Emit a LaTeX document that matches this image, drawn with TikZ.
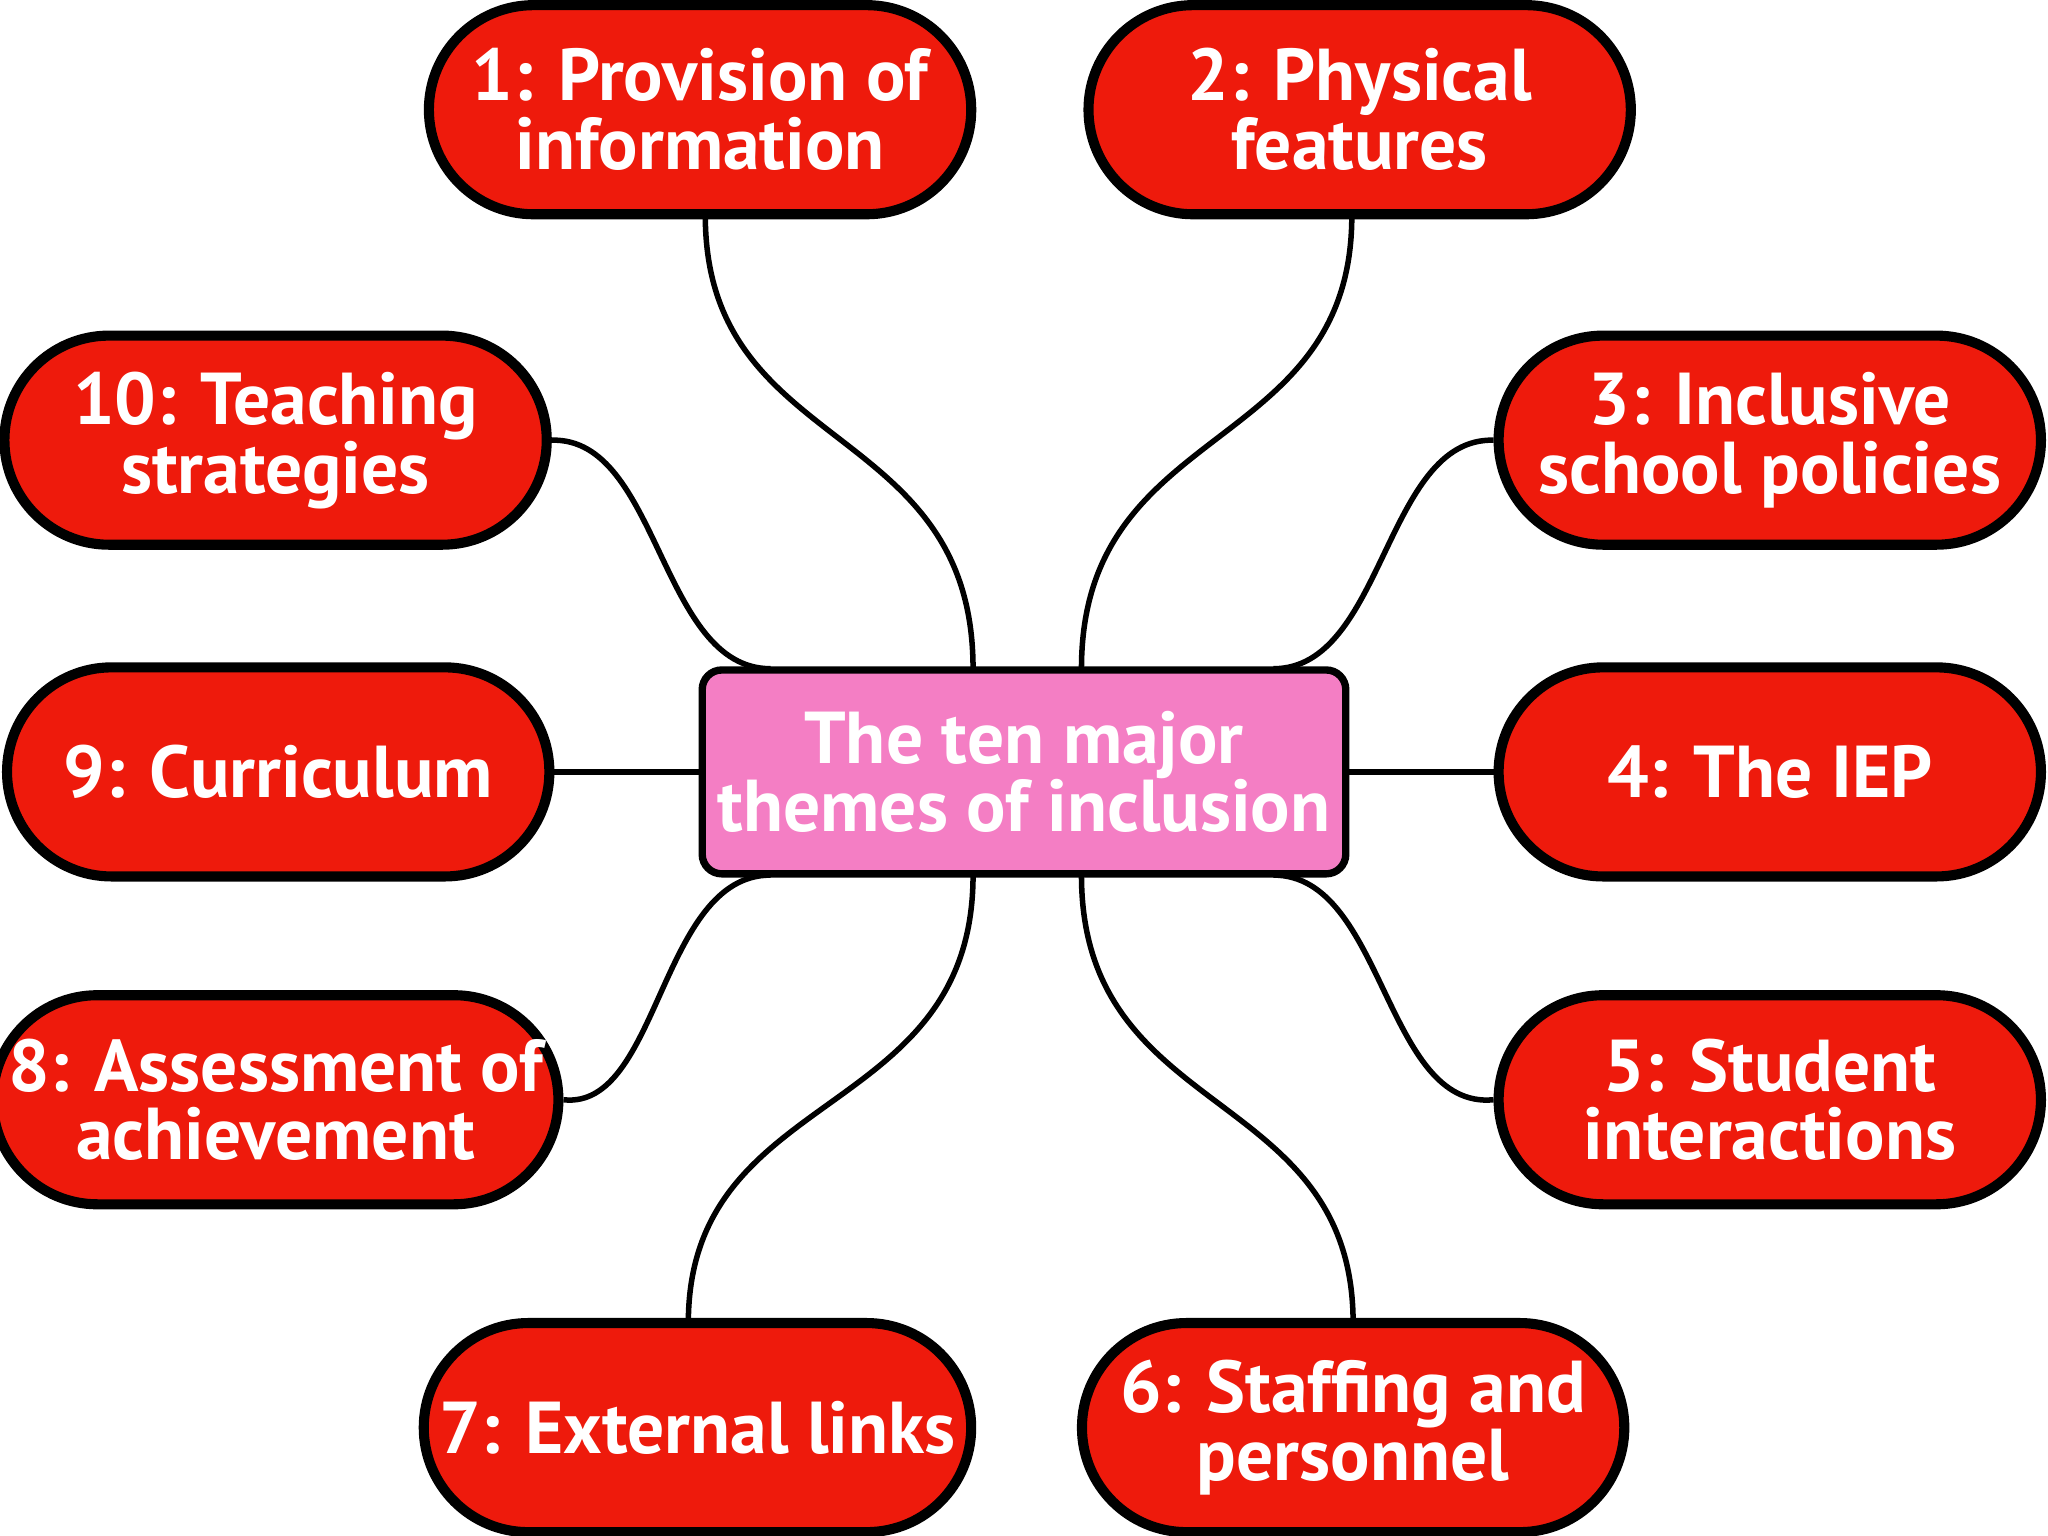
\documentclass[tikz,border=0pt]{standalone}
\usepackage{fontspec}
\setmainfont{PT Sans}
\begin{document}
\begin{tikzpicture}[x=0.01cm,y=-0.01cm,
 theme/.style={draw=black,line width=2.2pt,fill=redc,rounded corners=0.8cm,minimum width=4.15cm,minimum height=1.6cm,text=white,font=\bfseries\fontsize{16}{15}\selectfont,align=center},
 hub/.style={draw=black,line width=1.6pt,fill=pinkc,rounded corners=0.15cm,minimum width=4.15cm,minimum height=1.56cm,text=white,font=\bfseries\fontsize{16}{15}\selectfont,align=center},
 link/.style={line width=1.2pt,draw=black}]
\definecolor{redc}{HTML}{EE1A0C}
\definecolor{pinkc}{HTML}{F47EC4}
\useasboundingbox[fill=white] (0,0) rectangle (1568,1176);
\node[hub] (c) at (784,591) {The ten major\\themes of inclusion};
\node[theme] (n1) at (536,84) {1: Provision of\\information};
\node[theme] (n2) at (1041,84) {2: Physical\\features};
\node[theme] (n3) at (1355,337) {3: Inclusive\\school policies};
\node[theme] (n4) at (1355,591) {4: The IEP};
\node[theme] (n5) at (1355,842) {5: Student\\interactions};
\node[theme] (n6) at (1036,1093) {6: Staffing and\\personnel};
\node[theme] (n7) at (534,1093) {7: External links};
\node[theme] (n8) at (211,842) {8: Assessment of\\achievement};
\node[theme] (n9) at (213,591) {9: Curriculum};
\node[theme] (n10) at (211,337) {10: Teaching\\strategies};
\coordinate (t1) at (745,512); \coordinate (t2) at (828,512);
\coordinate (t3) at (975,512); \coordinate (t10) at (590,512);
\coordinate (b1) at (745,670); \coordinate (b2) at (828,670);
\coordinate (b3) at (975,670); \coordinate (b10) at (590,670);
\coordinate (s1) at (540,165); \coordinate (s2) at (1035,165);
\coordinate (s7) at (527,1013); \coordinate (s6) at (1036,1013);
\draw[link] (s1) .. controls (540,350) and (745,320) .. (t1);
\draw[link] (s2) .. controls (1035,350) and (828,320) .. (t2);
\draw[link] (n3.west) .. controls (1060,335) and (1060,512) .. (t3);
\draw[link] (n10.east) .. controls (505,335) and (505,512) .. (t10);
\draw[link] (n9.east) -- (c.west);
\draw[link] (c.east) -- (n4.west);
\draw[link] (n8.east) .. controls (505,850) and (505,670) .. (b10);
\draw[link] (n5.west) .. controls (1060,850) and (1060,670) .. (b3);
\draw[link] (s7) .. controls (527,830) and (745,860) .. (b1);
\draw[link] (s6) .. controls (1036,830) and (828,860) .. (b2);
\end{tikzpicture}
\end{document}
